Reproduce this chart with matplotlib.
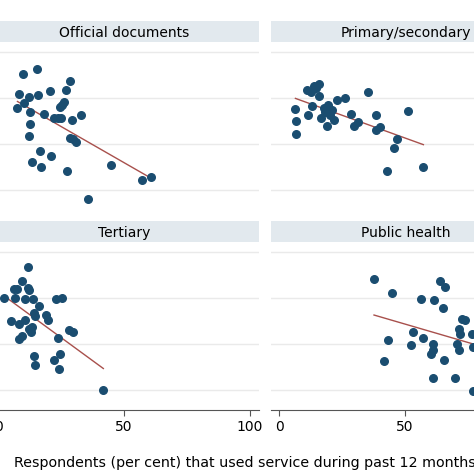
import numpy as np
import matplotlib.pyplot as plt

titles = ["Official documents", "Primary/secondary", "Tertiary", "Public health"]

x_off = [9.8, 15.5, 8.3, 12.4, 15.7, 20.8, 26.9, 28.7, 7.7, 10.3, 12.7, 18.4, 22.4, 23.9, 25.0, 24.7, 25.4,
         26.1, 29.4, 33.1, 12.7, 12.2, 28.6, 29.8, 31.1, 16.8, 21.0, 13.5, 17.1, 27.4, 44.8, 57.1, 60.7, 35.7]
y_off = [3.52, 3.63, 3.09, 3.02, 3.07, 3.15, 3.17, 3.37, 2.78, 2.89, 2.69, 2.65, 2.57, 2.56, 2.57, 2.80, 2.85,
         2.92, 2.52, 2.62, 2.44, 2.17, 2.13, 2.10, 2.05, 1.85, 1.73, 1.61, 1.51, 1.42, 1.55, 1.22, 1.29, 0.81]

x_pri = [11.1, 12.8, 13.9, 15.9, 14.7, 16.0, 6.5, 6.9, 6.9, 11.6, 13.2, 16.5, 18.9, 19.6, 17.9, 20.9, 20.2,
         21.7, 22.9, 26.3, 28.4, 29.6, 31.2, 35.3, 38.6, 38.4, 39.9, 51.3, 46.8, 45.6, 42.9, 57.3, 18.3]
y_pri = [3.18, 3.12, 3.25, 3.31, 3.22, 3.05, 2.75, 2.49, 2.22, 2.64, 2.82, 2.57, 2.40, 2.85, 2.78, 2.74, 2.62,
         2.52, 2.95, 3.01, 2.65, 2.39, 2.47, 3.14, 2.62, 2.31, 2.36, 2.71, 2.11, 1.91, 1.42, 1.49, 2.69]

x_ter = [11.8, 9.7, 6.3, 7.4, 11.8, 12.3, 2.4, 6.7, 10.5, 13.8, 16.4, 22.9, 25.4, 14.2, 14.8, 19.0, 19.8,
         5.0, 8.3, 10.7, 12.2, 13.6, 13.1, 28.3, 29.6, 8.3, 9.4, 23.7, 14.4, 14.7, 22.1, 24.5, 24.1, 41.8]
y_ter = [3.67, 3.36, 3.19, 3.19, 3.22, 3.17, 3.0, 3.0, 2.98, 2.98, 2.83, 2.98, 3.0, 2.67, 2.61, 2.64, 2.53,
         2.5, 2.44, 2.53, 2.33, 2.36, 2.26, 2.30, 2.26, 2.11, 2.17, 2.12, 1.74, 1.55, 1.66, 1.79, 1.46, 1.01]

x_hea = [37.7, 45.0, 56.3, 61.5, 63.9, 66.0, 64.9, 43.3, 41.5, 53.3, 57.0, 52.2, 61.2, 61.0, 60.3, 65.6,
         61.2, 69.8, 71.5, 72.6, 74.0, 71.9, 70.5, 71.5, 76.6, 77.1, 77.1]
y_hea = [3.42, 3.11, 2.98, 2.95, 3.38, 3.24, 2.78, 2.08, 1.64, 2.25, 2.14, 1.97, 1.99, 1.88, 1.78, 1.66,
         1.25, 1.25, 2.32, 2.54, 2.53, 2.22, 1.99, 1.86, 2.22, 1.93, 0.98]

data = [(x_off, y_off), (x_pri, y_pri), (x_ter, y_ter), (x_hea, y_hea)]

W = H = 474
fig = plt.figure(figsize=(4.74, 4.74), dpi=100)

# panel boxes in pixels (left, top); panels run past the image edges like the reference crop
lefts = [-10, 271]
tops = [42, 242]
for k, (xs, ys) in enumerate(data):
    r, c = divmod(k, 2)
    l, t = lefts[c], tops[r]
    ax = fig.add_axes([l / W, 1 - (t + 168) / H, 269 / W, 168 / H])
    ax.set_xlim(-3.2, 103.6)
    ax.set_ylim(0.565, 4.217)
    ax.set_yticks([1, 2, 3, 4])
    ax.grid(axis='y', color='#eaeaea', lw=1)
    ax.set_axisbelow(True)
    for s in ['left', 'right', 'top']:
        ax.spines[s].set_visible(False)
    ax.tick_params(axis='y', length=0, labelleft=False)
    if r == 0:
        ax.spines['bottom'].set_visible(False)
        ax.set_xticks([])
    else:
        ax.spines['bottom'].set_color('#555555')
        ax.set_xticks([0, 50, 100])
        ax.tick_params(axis='x', labelsize=10, color='#555555', length=4)
    xs = np.array(xs); ys = np.array(ys)
    ax.scatter(xs, ys, s=30, color='#1a4d70', zorder=3, clip_on=False)
    b, a = np.polyfit(xs, ys, 1)
    xx = np.array([xs.min(), xs.max()])
    ax.plot(xx, a + b * xx, color='#a8504c', lw=1, zorder=2)
    # strip header
    sax = fig.add_axes([l / W, 1 - t / H, 269 / W, 21 / H])
    sax.set_facecolor('#e2e9ee')
    sax.set_xticks([]); sax.set_yticks([])
    for s in sax.spines.values():
        s.set_visible(False)
    sax.text(0.5, 0.45, titles[k], ha='center', va='center', fontsize=10, transform=sax.transAxes)

fig.text(245 / W, 1 - 463 / H, "Respondents (per cent) that used service during past 12 months",
         ha='center', va='center', fontsize=10.3)
fig.savefig('out.png', dpi=100)
